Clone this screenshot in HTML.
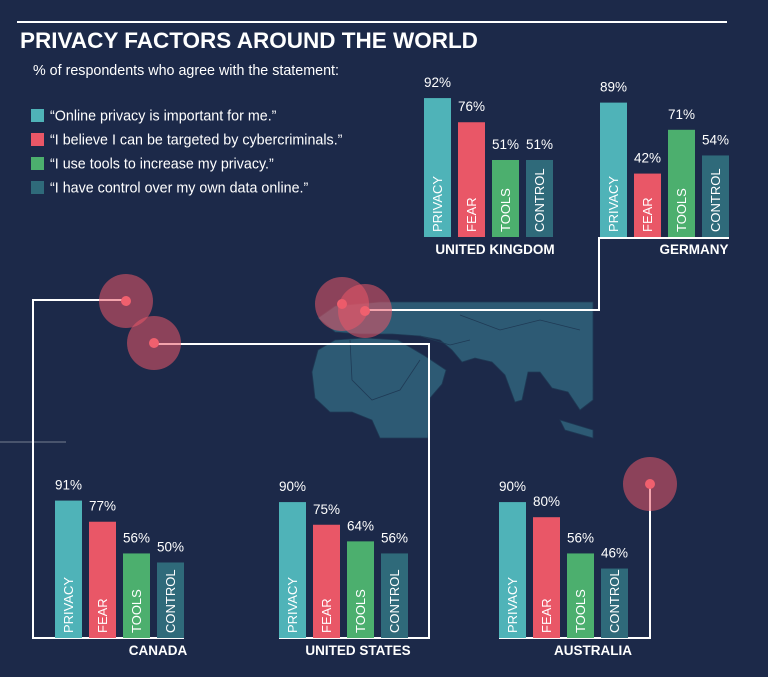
<!DOCTYPE html>
<html><head><meta charset="utf-8">
<style>
html,body{margin:0;padding:0;}
body{width:768px;height:677px;background:#1c2949;overflow:hidden;font-family:"Liberation Sans",sans-serif;}
svg{display:block}
</style></head>
<body>
<svg id="chart" width="768" height="677" viewBox="0 0 768 677" xmlns="http://www.w3.org/2000/svg">
<rect width="768" height="677" fill="#1c2949"/>
<g fill="#2d5a74" stroke="#1f3a55" stroke-width="0.8">
  <polygon points="318,318 335,306 380,302 593,302 593,400 580,410 568,392 552,388 540,372 528,372 522,400 515,402 505,375 492,362 475,358 462,362 452,350 440,340 420,336 392,334 360,334 335,332"/>
  <polygon points="312,372 318,350 335,340 365,338 398,340 425,356 446,370 442,384 430,398 428,438 380,438 372,420 352,412 330,412 315,398"/>
  <polygon points="560,420 593,430 593,438 565,430"/>
  <polyline fill="none" points="350,340 352,380 372,400 400,390 420,360" />
  <polyline fill="none" points="460,315 500,330 540,320 580,330" />
  <polyline fill="none" points="420,336 450,345 470,340" />
</g>
<line x1="17" y1="22" x2="727" y2="22" stroke="#ffffff" stroke-width="2"/>
<text x="20" y="48" fill="#ffffff" font-size="22.5" font-weight="bold">PRIVACY FACTORS AROUND THE WORLD</text>
<text x="33" y="75" fill="#ffffff" font-size="14.3">% of respondents who agree with the statement:</text>
<g id="legend"></g>
<g id="connectors" stroke="#ffffff" stroke-width="2" fill="none">
  <polyline points="126,300 33,300 33,638 184,638"/>
  <polyline points="154,344 429,344 429,638 279,638"/>
  <polyline points="365,310 599,310 599,238 729,238"/>
  <polyline points="650,484 650,638 499,638"/>
  <line x1="0" y1="442" x2="66" y2="442" stroke-width="1" opacity="0.4"/>
</g>
<g id="markers"></g>
<g id="bars"></g>
</svg>
<script>
const NS="http://www.w3.org/2000/svg";
const categories=["PRIVACY","FEAR","TOOLS","CONTROL"];
const colors=["#4fb3b8","#e95767","#4caf6e","#2f6a7a"];
const legendLabels=["\u201cOnline privacy is important for me.\u201d","\u201cI believe I can be targeted by cybercriminals.\u201d","\u201cI use tools to increase my privacy.\u201d","\u201cI have control over my own data online.\u201d"];
const countries=["UNITED KINGDOM","GERMANY","CANADA","UNITED STATES","AUSTRALIA"];
const ukValues=[92,76,51,51];
const germanyValues=[89,42,71,54];
const canadaValues=[91,77,56,50];
const usValues=[90,75,64,56];
const australiaValues=[90,80,56,46];
const allValues=[ukValues,germanyValues,canadaValues,usValues,australiaValues];
// layout (not data)
const panels=[{x:424,base:237,lx:495},{x:600,base:237,lx:694},{x:55,base:638,lx:158},{x:279,base:638,lx:358},{x:499,base:638,lx:593}];
const markerPts=[[126,301],[154,343],[342,304],[365,311],[650,484]];
const pxPerPct=1.51, barW=27, step=34;
function yScale(v,base){return base-v*pxPerPct;}
function mk(tag,attrs,parent){const e=document.createElementNS(NS,tag);for(const k in attrs)e.setAttribute(k,attrs[k]);parent.appendChild(e);return e;}
const lg=document.getElementById('legend');
legendLabels.forEach((t,i)=>{
  const y=115+i*24;
  const r=mk('rect',{x:31,y:y-6,width:13,height:13,fill:colors[i]},lg);
  
  
  const tx=mk('text',{x:50,y:y+5.5,fill:'#ffffff','font-size':14.3},lg);
  tx.textContent=t;
  
  
});
const mg=document.getElementById('markers');
markerPts.forEach((p,i)=>{
  const c=mk('circle',{cx:p[0],cy:p[1],r:27,fill:'#e95767','fill-opacity':0.55},mg);
  
  
  const d=mk('circle',{cx:p[0],cy:p[1],r:5,fill:'#f0606e'},mg);
  
  
});
const bg=document.getElementById('bars');
countries.forEach((name,ci)=>{
  const p=panels[ci];
  const g=mk('g',{},bg);
  
  
  allValues[ci].forEach((v,i)=>{
    const x=p.x+i*step, y=yScale(v,p.base);
    const r=mk('rect',{x:x,y:y,width:barW,height:p.base-y,fill:colors[i]},g);
    
    
    const vt=mk('text',{x:x+barW/2,y:y-11,fill:'#ffffff','font-size':13.5,'text-anchor':'middle'},g);
    vt.textContent=v+'%';
    
    
    const lt=mk('text',{x:0,y:0,fill:'#ffffff','font-size':13,transform:'translate('+(x+barW/2+4.5)+','+(p.base-5)+') rotate(-90)'},g);
    lt.textContent=categories[i];
    
    
  });
  const nt=mk('text',{x:p.lx,y:p.base+17,fill:'#ffffff','font-size':13.5,'font-weight':'bold','text-anchor':'middle'},g);
  nt.textContent=name;
  
  
});
</script>
</body></html>
